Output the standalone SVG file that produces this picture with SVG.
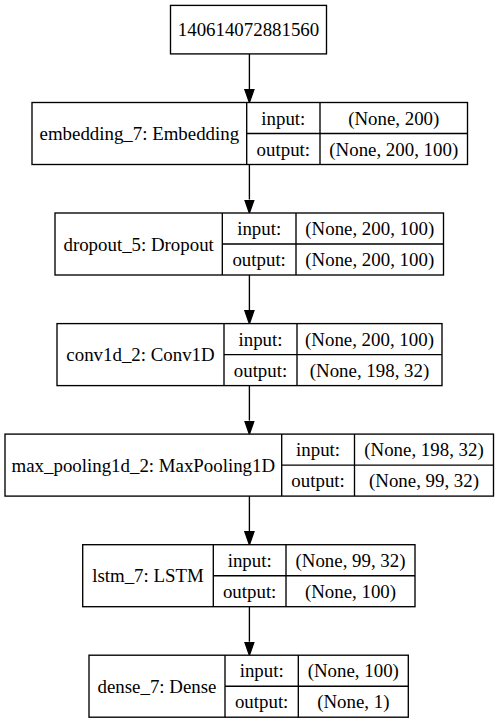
<svg xmlns="http://www.w3.org/2000/svg" width="499" height="724" viewBox="0 0 499 724">
<style>
.b{fill:#fff;stroke:#000;stroke-width:1.35}
.l{fill:none;stroke:#000;stroke-width:1.35}
text{font-family:"Liberation Serif","Times New Roman",serif;font-size:18.87px;fill:#000;text-anchor:middle}
</style>
<defs>
<marker id="ah" markerUnits="userSpaceOnUse" markerWidth="16" markerHeight="12" viewBox="0 -6 16 12" refX="0" refY="0" orient="auto">
<path d="M0,-4.7 L13.5,0 L0,4.7 Z" fill="#000" stroke="#000" stroke-width="1.35"/>
</marker>
</defs>
<rect width="499" height="724" fill="#fff"/>
<g id="edges">
<line class="l" x1="249.4" y1="53.9" x2="249.4" y2="89" marker-end="url(#ah)"/>
<line class="l" x1="249.4" y1="164.5" x2="249.4" y2="199.5" marker-end="url(#ah)"/>
<line class="l" x1="249.4" y1="275" x2="249.4" y2="310.1" marker-end="url(#ah)"/>
<line class="l" x1="249.4" y1="385.6" x2="249.4" y2="420.6" marker-end="url(#ah)"/>
<line class="l" x1="249.4" y1="496.1" x2="249.4" y2="531.2" marker-end="url(#ah)"/>
<line class="l" x1="249.4" y1="606.7" x2="249.4" y2="641.7" marker-end="url(#ah)"/>
</g>
<g id="input">
<rect class="b" x="170.5" y="5.4" width="156" height="48.5"/>
<text x="248.5" y="36.2">140614072881560</text>
</g>
<g id="embedding_7">
<rect class="b" x="32" y="102.5" width="435.5" height="62"/>
<path class="l" d="M246.7,102.5V164.5M320,102.5V164.5M246.7,133.5H467.5"/>
<text x="139.35" y="140">embedding_7: Embedding</text>
<text x="283.35" y="124.5">input:</text>
<text x="283.35" y="155.5">output:</text>
<text x="393.75" y="124.5">(None, 200)</text>
<text x="393.75" y="155.5">(None, 200, 100)</text>
</g>
<g id="dropout_5">
<rect class="b" x="55" y="213" width="388.5" height="62"/>
<path class="l" d="M222.3,213V275M296,213V275M222.3,244H443.5"/>
<text x="138.65" y="250.5">dropout_5: Dropout</text>
<text x="259.15" y="235">input:</text>
<text x="259.15" y="266">output:</text>
<text x="369.75" y="235">(None, 200, 100)</text>
<text x="369.75" y="266">(None, 200, 100)</text>
</g>
<g id="conv1d_2">
<rect class="b" x="57" y="323.6" width="385" height="62"/>
<path class="l" d="M224,323.6V385.6M297,323.6V385.6M224,354.6H442"/>
<text x="140.5" y="361.1">conv1d_2: Conv1D</text>
<text x="260.5" y="345.6">input:</text>
<text x="260.5" y="376.6">output:</text>
<text x="369.5" y="345.6">(None, 200, 100)</text>
<text x="369.5" y="376.6">(None, 198, 32)</text>
</g>
<g id="max_pooling1d_2">
<rect class="b" x="5" y="434.1" width="488.5" height="62"/>
<path class="l" d="M281.7,434.1V496.1M354.5,434.1V496.1M281.7,465.1H493.5"/>
<text x="143.35" y="471.6">max_pooling1d_2: MaxPooling1D</text>
<text x="318.1" y="456.1">input:</text>
<text x="318.1" y="487.1">output:</text>
<text x="424" y="456.1">(None, 198, 32)</text>
<text x="424" y="487.1">(None, 99, 32)</text>
</g>
<g id="lstm_7">
<rect class="b" x="82.7" y="544.7" width="332.3" height="62"/>
<path class="l" d="M213.3,544.7V606.7M286,544.7V606.7M213.3,575.7H415"/>
<text x="148" y="582.2">lstm_7: LSTM</text>
<text x="249.65" y="566.7">input:</text>
<text x="249.65" y="597.7">output:</text>
<text x="350.5" y="566.7">(None, 99, 32)</text>
<text x="350.5" y="597.7">(None, 100)</text>
</g>
<g id="dense_7">
<rect class="b" x="89" y="655.2" width="319.3" height="62"/>
<path class="l" d="M225,655.2V717.2M298.3,655.2V717.2M225,686.2H408.3"/>
<text x="157" y="692.7">dense_7: Dense</text>
<text x="261.65" y="677.2">input:</text>
<text x="261.65" y="708.2">output:</text>
<text x="353.3" y="677.2">(None, 100)</text>
<text x="353.3" y="708.2">(None, 1)</text>
</g>
</svg>
